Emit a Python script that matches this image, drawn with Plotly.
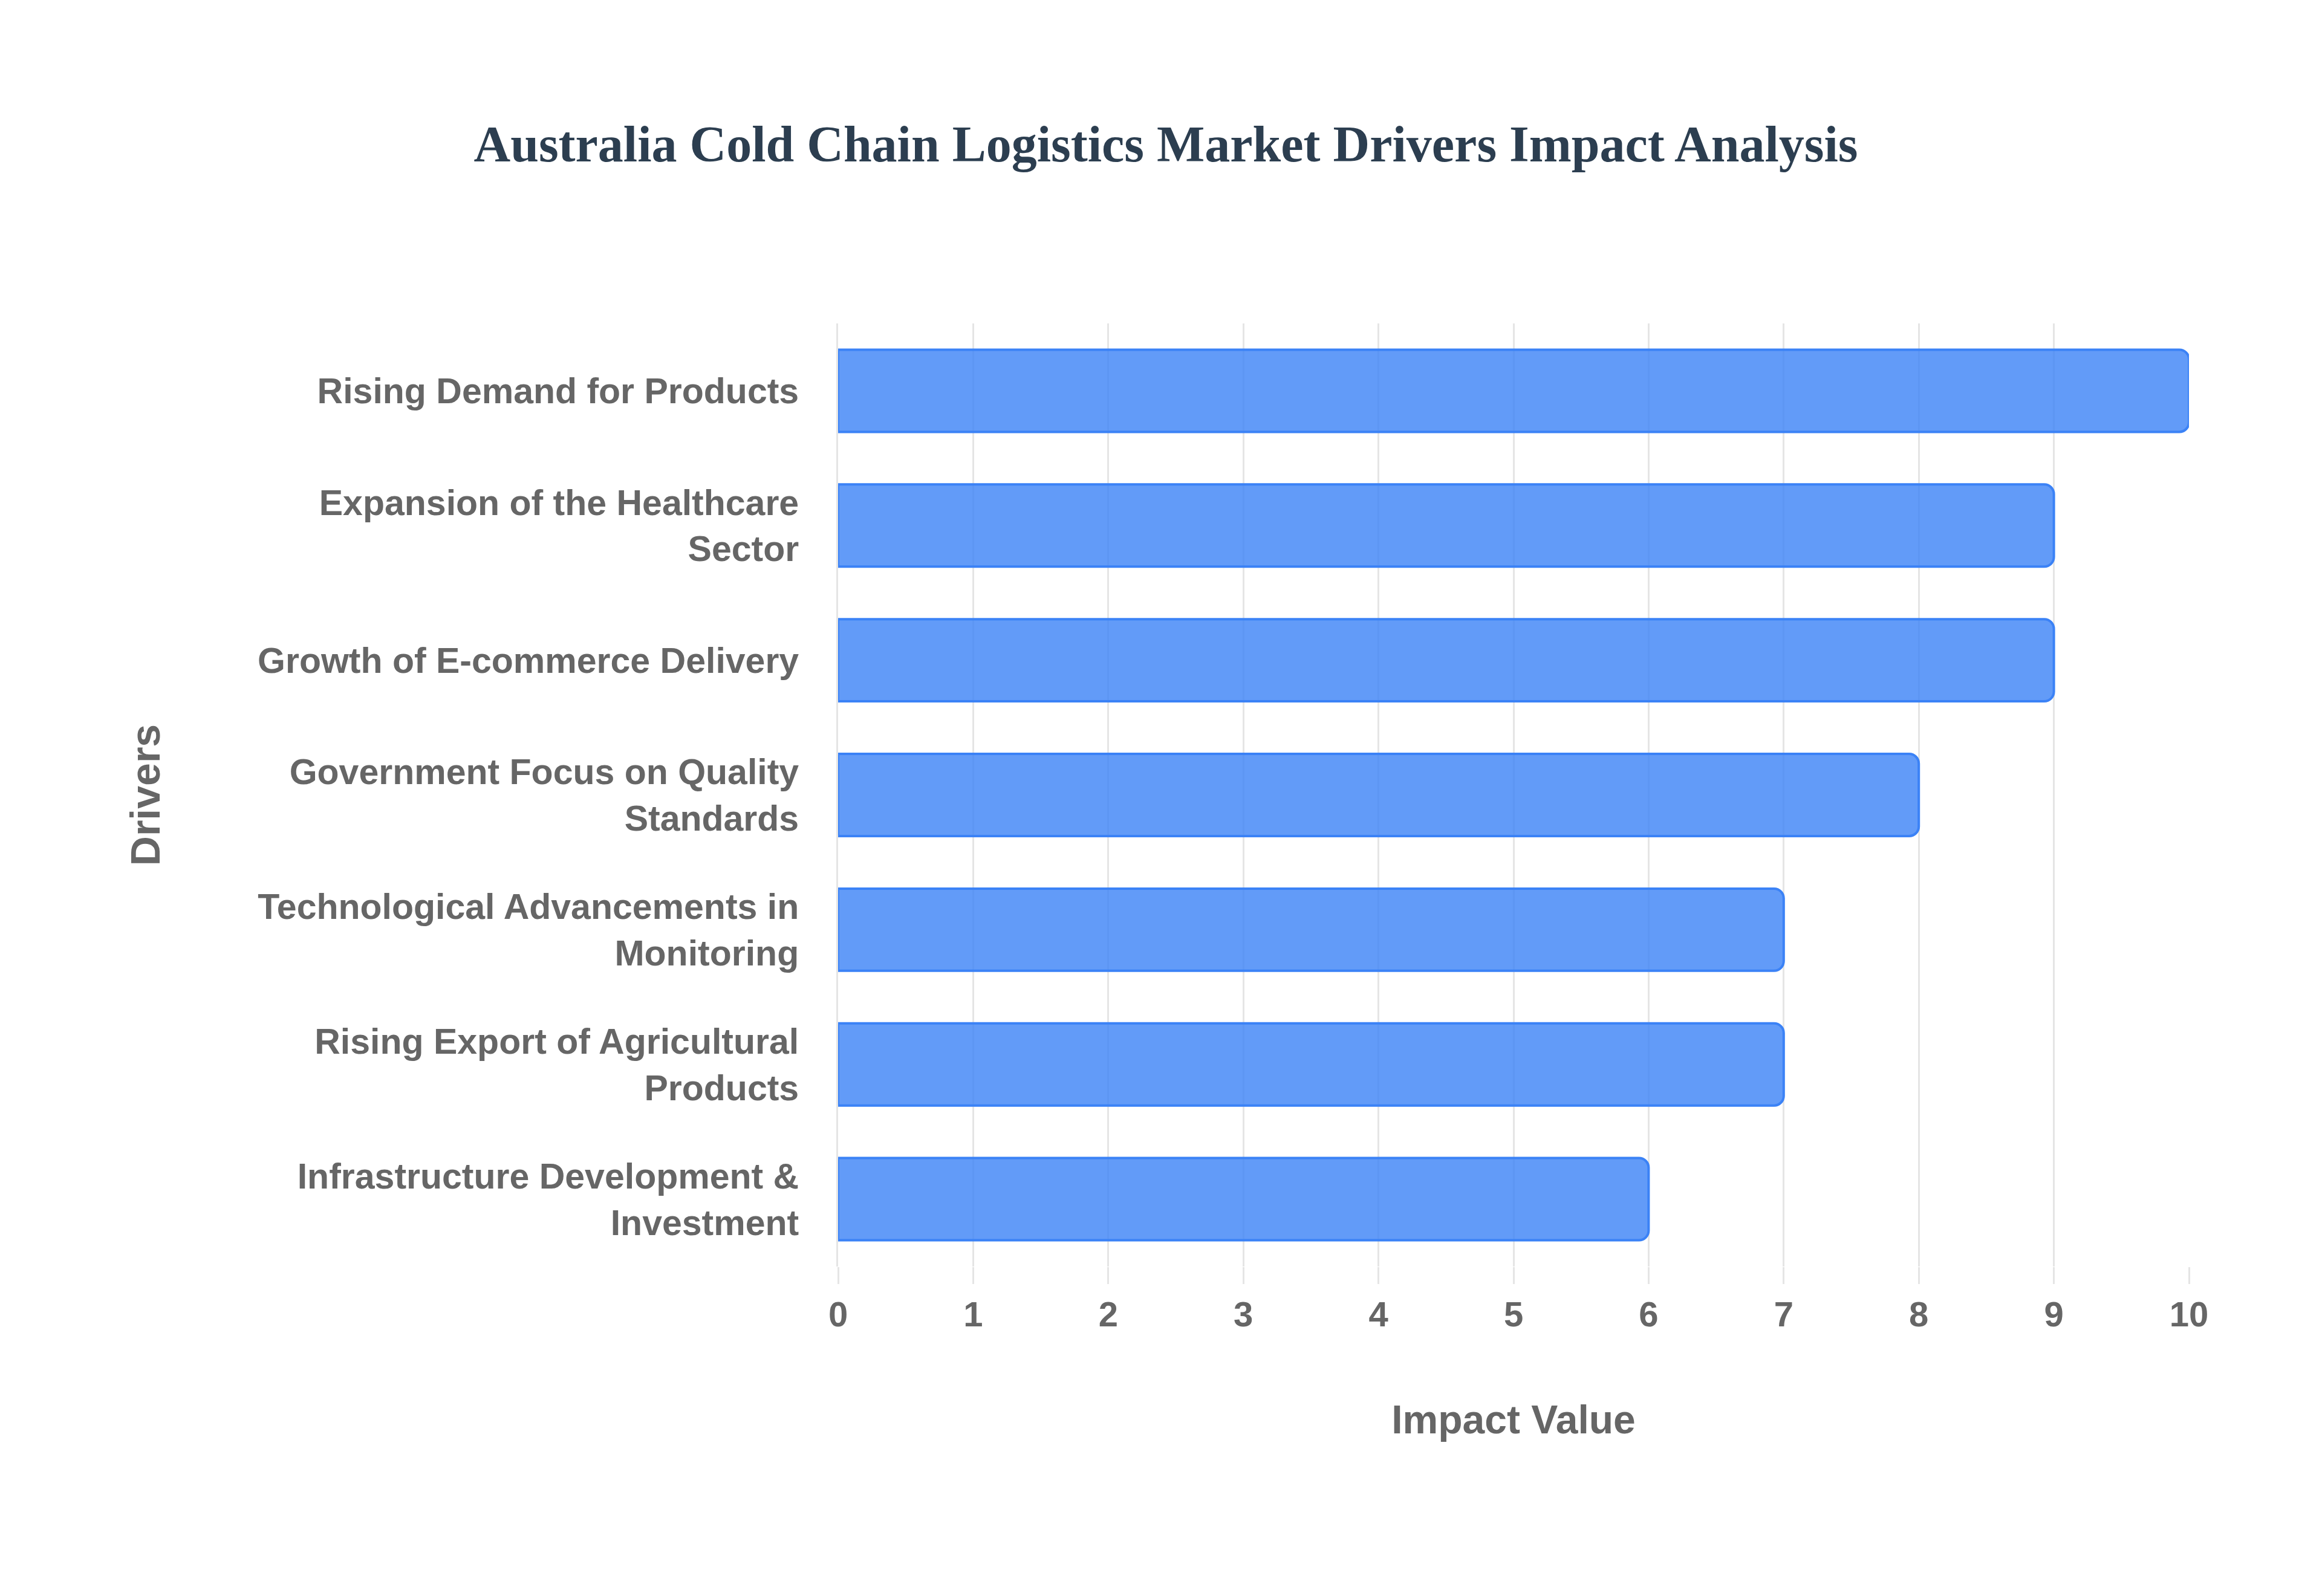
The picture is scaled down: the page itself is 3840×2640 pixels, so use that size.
import plotly.graph_objects as go

drivers = [
    "Rising Demand for Products",
    "Expansion of the Healthcare<br>Sector",
    "Growth of E-commerce Delivery",
    "Government Focus on Quality<br>Standards",
    "Technological Advancements in<br>Monitoring",
    "Rising Export of Agricultural<br>Products",
    "Infrastructure Development &<br>Investment",
]
impact = [10, 9, 9, 8, 7, 7, 6]
x_ticks = list(range(0, 11))

fig = go.Figure(go.Bar(
    y=drivers, x=impact, orientation="h",
    marker=dict(color="rgba(59,130,246,0.8)", line=dict(color="#3b82f6", width=4)),
))
fig.update_layout(
    width=3840, height=2640,
    margin=dict(l=1378, r=228, t=527, b=553),
    paper_bgcolor="white", plot_bgcolor="white",
    bargap=0.39, barcornerradius=16,
    title=dict(text="Australia Cold Chain Logistics Market Drivers Impact Analysis",
               x=0.5, xanchor="center", y=0.913, yanchor="middle",
               font=dict(family="Liberation Serif", size=84, color="#2c3e50", weight="bold")),
    font=dict(family="Liberation Sans", color="#666666"),
    showlegend=False,
)
fig.update_xaxes(range=[0, 10], tickvals=x_ticks, showgrid=True, gridcolor="#e5e5e5", gridwidth=3,
                 zeroline=False, ticks="outside", ticklen=28, tickcolor="#e5e5e5", tickwidth=3,
                 tickfont=dict(size=58, weight="bold", color="#666666"),
                 title=dict(text="Impact Value", standoff=120,
                            font=dict(size=66, weight="bold", color="#666666")))
fig.update_yaxes(autorange="reversed", showgrid=False, showline=True, linecolor="#e5e5e5", linewidth=3,
                 ticks="outside", ticklen=50, tickcolor="rgba(0,0,0,0)",
                 tickfont=dict(size=59, weight="bold", color="#666666"),
                 title=dict(text="Drivers", standoff=140,
                            font=dict(size=68, weight="bold", color="#666666")))
fig.write_html("out.html")
